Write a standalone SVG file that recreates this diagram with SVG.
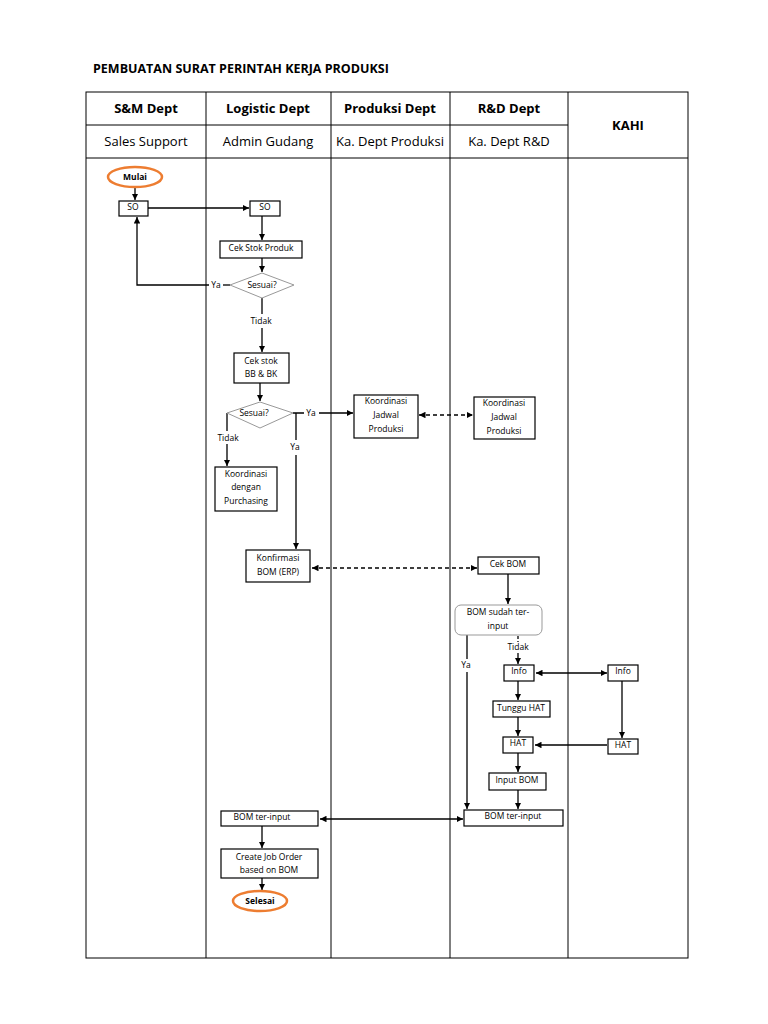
<svg xmlns="http://www.w3.org/2000/svg" width="768" height="1024" viewBox="0 0 768 1024">
<defs>
<marker id="a" viewBox="0 0 10 10" refX="10" refY="5" markerWidth="5" markerHeight="5" orient="auto-start-reverse"><path d="M0,0L10,5L0,10z" fill="#000"/></marker>
<style>
text{font-family:"Open Sans","Liberation Sans",sans-serif;fill:#000}
.h{font-size:13px;font-weight:bold;text-anchor:middle}
.s{font-size:13px;text-anchor:middle}
.n{font-size:8.5px;text-anchor:middle}
.nb{font-size:8.5px;text-anchor:middle;font-weight:bold}
.b{fill:#fff;stroke:#000;stroke-width:1.2}
.g{fill:#fff;stroke:#999;stroke-width:1}
.o{fill:#fff;stroke:#ED7D31;stroke-width:2.5}
.c{fill:none;stroke:#000;stroke-width:1.3}
</style>
</defs>
<rect width="768" height="1024" fill="#fff"/>
<text x="93" y="73" style="font-size:12.5px;font-weight:bold">PEMBUATAN SURAT PERINTAH KERJA PRODUKSI</text>
<g id="table" fill="none" stroke="#000" stroke-width="1">
<rect x="86" y="92" width="602" height="866"/>
<path d="M206,92V958M331,92V958M450,92V958M568,92V958M86,125H568M86,158H688"/>
</g>
<g id="headers">
<text class="h" x="146" y="113">S&amp;M Dept</text>
<text class="h" x="268" y="113">Logistic Dept</text>
<text class="h" x="390" y="113">Produksi Dept</text>
<text class="h" x="509" y="113">R&amp;D Dept</text>
<text class="h" x="628" y="130">KAHI</text>
<text class="s" x="146" y="146">Sales Support</text>
<text class="s" x="268" y="146">Admin Gudang</text>
<text class="s" x="390" y="146">Ka. Dept Produksi</text>
<text class="s" x="509" y="146">Ka. Dept R&amp;D</text>
</g>
<g id="connectors">
<path class="c" d="M135,187V200" marker-end="url(#a)"/>
<path class="c" d="M148,208H249" marker-end="url(#a)"/>
<path class="c" d="M262,216V240" marker-end="url(#a)"/>
<path class="c" d="M262,258V272" marker-end="url(#a)"/>
<path class="c" d="M209,285H137V217" marker-end="url(#a)"/>
<path class="c" d="M223,285H230"/>
<path class="c" d="M262,298V314M262,328V352" marker-end="url(#a)"/>
<path class="c" d="M260,383V401" marker-end="url(#a)"/>
<path class="c" d="M293,413H304M319,413H353" marker-end="url(#a)"/>
<path class="c" d="M419,415H473" stroke-dasharray="4,3" marker-start="url(#a)" marker-end="url(#a)"/>
<path class="c" d="M227,413V431M227,444V466" marker-end="url(#a)"/>
<path class="c" d="M296,413V440M296,455V549" marker-end="url(#a)"/>
<path class="c" d="M312,568H477" stroke="#777" stroke-dasharray="4,3" marker-start="url(#a)" marker-end="url(#a)"/>
<path class="c" d="M508,574V604" marker-end="url(#a)"/>
<path class="c" d="M518,636V642" stroke-dasharray="3,2"/>
<path class="c" d="M518,653V664" marker-end="url(#a)"/>
<path class="c" d="M467,635V659M467,672V809" marker-end="url(#a)"/>
<path class="c" d="M536,673H607" marker-start="url(#a)" marker-end="url(#a)"/>
<path class="c" d="M622,681V738" marker-end="url(#a)"/>
<path class="c" d="M607,745H535" marker-end="url(#a)"/>
<path class="c" d="M518,681V700" marker-end="url(#a)"/>
<path class="c" d="M518,717V736" marker-end="url(#a)"/>
<path class="c" d="M518,753V772" marker-end="url(#a)"/>
<path class="c" d="M518,790V809" marker-end="url(#a)"/>
<path class="c" d="M320,819H463" marker-start="url(#a)" marker-end="url(#a)"/>
<path class="c" d="M262,826V848" marker-end="url(#a)"/>
<path class="c" d="M262,878V890" marker-end="url(#a)"/>
<text class="n" x="216" y="288">Ya</text>
<text class="n" x="261" y="324">Tidak</text>
<text class="n" x="311" y="416">Ya</text>
<text class="n" x="228" y="441">Tidak</text>
<text class="n" x="295" y="450">Ya</text>
<text class="n" x="518" y="650">Tidak</text>
<text class="n" x="466" y="668">Ya</text>
</g>
<g id="mulai"><ellipse class="o" cx="135" cy="177" rx="27" ry="10"/><text class="nb" x="135" y="180">Mulai</text></g>
<g id="so1"><rect class="b" x="119" y="201" width="29" height="15"/><text class="n" x="133" y="210">SO</text></g>
<g id="so2"><rect class="b" x="250" y="201" width="30" height="15"/><text class="n" x="265" y="210">SO</text></g>
<g id="cekstok"><rect class="b" x="220" y="241" width="82" height="17"/><text class="n" x="261" y="251">Cek Stok Produk</text></g>
<g id="sesuai1"><path class="g" d="M230,285L262,273L294,285L262,298z"/><text class="n" x="262" y="288">Sesuai?</text></g>
<g id="cekbb"><rect class="b" x="234" y="353" width="55" height="30"/><text class="n" x="261" y="364">Cek stok</text><text class="n" x="261" y="377">BB &amp; BK</text></g>
<g id="sesuai2"><path class="g" d="M227,413L260,402L293,413L260,428z"/><text class="n" x="254" y="416">Sesuai?</text></g>
<g id="kjp1"><rect class="b" x="354" y="395" width="64" height="43"/><text class="n" x="386" y="404">Koordinasi</text><text class="n" x="386" y="418">Jadwal</text><text class="n" x="386" y="432">Produksi</text></g>
<g id="kjp2"><rect class="b" x="474" y="397" width="61" height="42"/><text class="n" x="504" y="406">Koordinasi</text><text class="n" x="504" y="420">Jadwal</text><text class="n" x="504" y="434">Produksi</text></g>
<g id="purch"><rect class="b" x="215" y="467" width="62" height="44"/><text class="n" x="246" y="477">Koordinasi</text><text class="n" x="246" y="490">dengan</text><text class="n" x="246" y="504">Purchasing</text></g>
<g id="konf"><rect class="b" x="246" y="550" width="64" height="32"/><text class="n" x="278" y="561">Konfirmasi</text><text class="n" x="278" y="575">BOM (ERP)</text></g>
<g id="cekbom"><rect class="b" x="478" y="557" width="61" height="17"/><text class="n" x="508" y="567">Cek BOM</text></g>
<g id="bomsudah"><rect class="g" x="455" y="605" width="87" height="30" rx="6"/><text class="n" x="498" y="615">BOM sudah ter-</text><text class="n" x="498" y="629">input</text></g>
<g id="info1"><rect class="b" x="504" y="665" width="30" height="16"/><text class="n" x="519" y="674">Info</text></g>
<g id="info2"><rect class="b" x="608" y="665" width="30" height="16"/><text class="n" x="623" y="674">Info</text></g>
<g id="tunggu"><rect class="b" x="493" y="701" width="57" height="16"/><text class="n" x="521" y="711">Tunggu HAT</text></g>
<g id="hat1"><rect class="b" x="503" y="737" width="30" height="16"/><text class="n" x="518" y="746">HAT</text></g>
<g id="hat2"><rect class="b" x="608" y="739" width="30" height="15"/><text class="n" x="623" y="748">HAT</text></g>
<g id="inputbom"><rect class="b" x="489" y="773" width="57" height="17"/><text class="n" x="517" y="783">Input BOM</text></g>
<g id="bomter2"><rect class="b" x="464" y="810" width="99" height="16"/><text class="n" x="513" y="819">BOM ter-input</text></g>
<g id="bomter1"><rect class="b" x="221" y="811" width="97" height="15"/><text class="n" x="262" y="820">BOM ter-input</text></g>
<g id="job"><rect class="b" x="221" y="849" width="97" height="29"/><text class="n" x="269" y="860">Create Job Order</text><text class="n" x="269" y="873">based on BOM</text></g>
<g id="selesai"><ellipse class="o" cx="260" cy="901" rx="27" ry="10"/><text class="nb" x="260" y="904">Selesai</text></g>
</svg>
